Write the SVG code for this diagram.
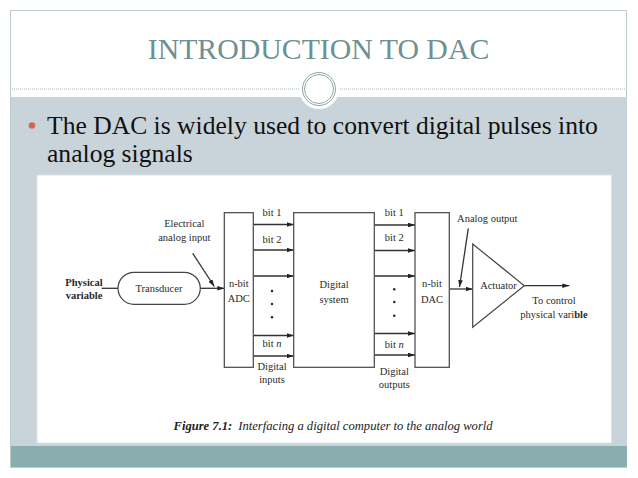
<svg xmlns="http://www.w3.org/2000/svg" width="638" height="478" viewBox="0 0 638 478">
<defs>
<style>
.t{font-family:"Liberation Serif","Times New Roman",serif;font-size:10.5px;fill:#2a2a2a;text-anchor:middle}
.b{font-weight:bold}
.box{fill:#fff;stroke:#444;stroke-width:1.2}
.ln{fill:none;stroke:#333;stroke-width:1.3}
</style>
<marker id="ah" viewBox="0 0 7 4.6" refX="7" refY="2.3" markerWidth="7" markerHeight="4.6" markerUnits="userSpaceOnUse" orient="auto">
<path d="M0,0 L7,2.3 L0,4.6 z" fill="#222"/>
</marker>
</defs>
<rect x="0" y="0" width="638" height="478" fill="#fff"/>
<g id="slide">
<rect x="10.5" y="10.5" width="616" height="457" fill="#fff" stroke="#bccccc" stroke-width="1"/>
<rect x="11" y="97" width="616" height="349" fill="#c9d4da"/>
<rect x="11" y="446" width="616" height="21" fill="#8aadad"/>
<line x1="12" y1="89" x2="626" y2="89" stroke="#a9b8b8" stroke-width="1" stroke-dasharray="1,1"/>
<circle cx="319" cy="89" r="20" fill="#fff"/>
<circle cx="319" cy="89" r="16.5" fill="none" stroke="#8fa7a7" stroke-width="1"/>
<circle cx="319" cy="89" r="14.5" fill="none" stroke="#8fa7a7" stroke-width="1"/>
<text x="318.5" y="58.5" text-anchor="middle" font-family="'Liberation Serif','Times New Roman',serif" font-size="29.8" fill="#6e9090">INTRODUCTION TO DAC</text>
<circle cx="32" cy="125.5" r="3.3" fill="#d2694a"/>
<text x="47" y="133.5" font-family="'Liberation Serif','Times New Roman',serif" font-size="25.6" fill="#111">The DAC is widely used to convert digital pulses into</text>
<text x="47" y="161.5" font-family="'Liberation Serif','Times New Roman',serif" font-size="25.6" fill="#111">analog signals</text>
<rect x="37" y="175" width="574.5" height="268" fill="#fff" stroke="#dde3e3" stroke-width="1"/>
</g>
<g id="connectors">
<line class="ln" x1="101.7" y1="288.3" x2="118" y2="288.3"/>
<line class="ln" x1="200.3" y1="288.3" x2="224.3" y2="288.3" marker-end="url(#ah)"/>
<line class="ln" x1="192.7" y1="253.3" x2="214.3" y2="286.5" marker-end="url(#ah)"/>
<line class="ln" x1="253.3" y1="224.5" x2="293.7" y2="224.5" marker-end="url(#ah)"/>
<line class="ln" x1="253.3" y1="250" x2="293.7" y2="250" marker-end="url(#ah)"/>
<line class="ln" x1="253.3" y1="276" x2="293.7" y2="276" marker-end="url(#ah)"/>
<line class="ln" x1="253.3" y1="335.5" x2="293.7" y2="335.5" marker-end="url(#ah)"/>
<line class="ln" x1="253.3" y1="356" x2="293.7" y2="356" marker-end="url(#ah)"/>
<line class="ln" x1="374.3" y1="225" x2="415" y2="225" marker-end="url(#ah)"/>
<line class="ln" x1="374.3" y1="250.5" x2="415" y2="250.5" marker-end="url(#ah)"/>
<line class="ln" x1="374.3" y1="276" x2="415" y2="276" marker-end="url(#ah)"/>
<line class="ln" x1="374.3" y1="333.5" x2="415" y2="333.5" marker-end="url(#ah)"/>
<line class="ln" x1="374.3" y1="355" x2="415" y2="355" marker-end="url(#ah)"/>
<line class="ln" x1="449.3" y1="289" x2="472.7" y2="289" marker-end="url(#ah)"/>
<line class="ln" x1="468.3" y1="228.3" x2="459.5" y2="287" marker-end="url(#ah)"/>
<line class="ln" x1="524.3" y1="285.7" x2="569.3" y2="285.7" marker-end="url(#ah)"/>
</g>
<g id="physical-variable">
<text class="t b" x="84" y="286" font-size="10">Physical</text>
<text class="t b" x="84" y="299" font-size="10">variable</text>
</g>
<g id="transducer">
<rect class="box" x="118" y="272.3" width="82.3" height="32" rx="16" ry="16"/>
<text class="t" x="159" y="291.5">Transducer</text>
</g>
<g id="electrical-analog-input">
<text class="t" x="184.3" y="226.7">Electrical</text>
<text class="t" x="184.3" y="240.7">analog input</text>
</g>
<g id="adc">
<rect class="box" x="224.3" y="212.7" width="29" height="154.6"/>
<text class="t" x="238.8" y="286.7">n-bit</text>
<text class="t" x="238.8" y="302.3">ADC</text>
</g>
<g id="adc-bits">
<text class="t" x="272" y="215.5">bit 1</text>
<text class="t" x="272" y="243.3">bit 2</text>
<circle cx="272" cy="291" r="1.2" fill="#222"/>
<circle cx="272" cy="304" r="1.2" fill="#222"/>
<circle cx="272" cy="317.3" r="1.2" fill="#222"/>
<text class="t" x="272" y="346.7">bit <tspan font-style="italic">n</tspan></text>
<text class="t" x="272" y="370">Digital</text>
<text class="t" x="272" y="383.3">inputs</text>
</g>
<g id="digital-system">
<rect class="box" x="293.7" y="212.7" width="80.6" height="154.6"/>
<text class="t" x="334" y="287.7">Digital</text>
<text class="t" x="334" y="303">system</text>
</g>
<g id="dac-bits">
<text class="t" x="394.3" y="215.5">bit 1</text>
<text class="t" x="394.3" y="240.5">bit 2</text>
<circle cx="394.3" cy="289.3" r="1.2" fill="#222"/>
<circle cx="394.3" cy="302" r="1.2" fill="#222"/>
<circle cx="394.3" cy="315.7" r="1.2" fill="#222"/>
<text class="t" x="394.3" y="347.7">bit <tspan font-style="italic">n</tspan></text>
<text class="t" x="394.3" y="375">Digital</text>
<text class="t" x="394.3" y="388.3">outputs</text>
</g>
<g id="dac">
<rect class="box" x="415" y="212.7" width="34.3" height="154.6"/>
<text class="t" x="432" y="287">n-bit</text>
<text class="t" x="432" y="302.5">DAC</text>
</g>
<g id="analog-output">
<text class="t" x="487.3" y="221.7">Analog output</text>
</g>
<g id="actuator">
<path class="box" d="M472.7,244 L524.3,285.7 L472.7,327.3 Z"/>
<text class="t" x="498.5" y="288.5">Actuator</text>
</g>
<g id="to-control">
<text class="t" x="554" y="304.3">To control</text>
<text class="t" x="554" y="318.3">physical vari<tspan font-weight="bold">ble</tspan></text>
</g>
<g id="caption">
<text x="173.5" y="429.5" font-family="'Liberation Serif','Times New Roman',serif" font-size="12.6" fill="#222" font-style="italic"><tspan font-weight="bold">Figure 7.1:</tspan><tspan dx="6">Interfacing a digital computer to the analog world</tspan></text>
</g>
</svg>
